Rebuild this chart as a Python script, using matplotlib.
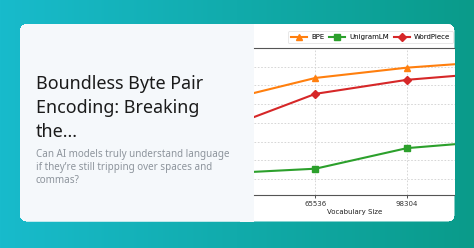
import numpy as np
import matplotlib
matplotlib.use("Agg")
import matplotlib.pyplot as plt
from matplotlib.patches import FancyBboxPatch, Rectangle

# ---- data ----
vocab_sizes = [32768, 65536, 98304, 131072]
bpe = [68.4, 70.8, 71.9, 72.6]
unigram = [60.6, 61.1, 63.3, 64.1]
wordpiece = [65.4, 69.1, 70.6, 71.4]
series_names = ["BPE", "UnigramLM", "WordPiece"]
x_ticks = [32768, 65536, 98304, 131072]
x_label = "Vocabulary Size"
title_lines = ["Boundless Byte Pair", "Encoding: Breaking", "the..."]
subtitle_lines = ["Can AI models truly understand language",
                  "if they\u2019re still tripping over spaces and",
                  "commas?"]

W, H = 474, 248
fig = plt.figure(figsize=(W / 100, H / 100), dpi=100)

# ---- background gradient ----
c_left = np.array([0x18, 0xbb, 0xcc]) / 255
c_right = np.array([0x0a, 0x9b, 0x8a]) / 255
t = np.linspace(0, 1, W)[None, :, None]
grad = c_left * (1 - t) + c_right * t
grad = np.repeat(grad, H, axis=0)

ax_bg = fig.add_axes([0, 0, 1, 1], zorder=-10)
ax_bg.imshow(grad, extent=(0, W, H, 0), interpolation="nearest", aspect="auto")
ax_bg.set_xlim(0, W)
ax_bg.set_ylim(H, 0)
ax_bg.axis("off")

# card
cx0, cy0, cx1, cy1, r = 20, 24, 454.5, 221.5, 6
ax_bg.add_patch(FancyBboxPatch((cx0, cy0), cx1 - cx0, cy1 - cy0,
                               boxstyle=f"round,pad=0,rounding_size={r}",
                               fc="white", ec="none", zorder=2))
# left light panel
ax_bg.add_patch(FancyBboxPatch((cx0, cy0), 254 - cx0, cy1 - cy0,
                               boxstyle=f"round,pad=0,rounding_size={r}",
                               fc="#f5f8fb", ec="none", zorder=3))
ax_bg.add_patch(Rectangle((240, cy0), 14, cy1 - cy0, fc="#f5f8fb", ec="none", zorder=3))

# texts
tfont = ["Noto Sans", "DejaVu Sans"]
for i, line in enumerate(title_lines):
    ax_bg.text(36, 89 + 24 * i, line, fontsize=12.9, color="#1b1b1b",
               family=tfont, va="baseline", ha="left", zorder=5)
for i, line in enumerate(subtitle_lines):
    ax_bg.text(36, 157 + 13 * i, line, fontsize=7.1, color="#8d949c",
               family=tfont, va="baseline", ha="left", zorder=5)

# ---- chart axes ----
px_l, px_r, px_t, px_b = 254, 454.5, 48, 195
ax = fig.add_axes([px_l / W, (H - px_b) / H, (px_r - px_l) / W, (px_b - px_t) / H], zorder=1)
ax.set_facecolor("white")
ax.plot(vocab_sizes, bpe, color="#ff7f0e", marker="^", ms=5, lw=1.5, label=series_names[0])
ax.plot(vocab_sizes, unigram, color="#2ca02c", marker="s", ms=4.5, lw=1.5, label=series_names[1])
ax.plot(vocab_sizes, wordpiece, color="#d62728", marker="D", ms=4.5, lw=1.5, label=series_names[2])

ax.set_xticks(x_ticks)
ax.set_xticklabels([str(v) for v in x_ticks])
ax.set_yticks(np.arange(60, 73, 2))
ax.set_xlim(43571, 115300)
ax.set_ylim(58.29, 74.0)
ax.tick_params(axis="y", left=False, labelleft=False)
ax.tick_params(axis="x", length=2, width=0.6, pad=2, labelsize=5, colors="#333333")
ax.set_xlabel(x_label, fontsize=5, labelpad=1.5, color="#222222")
ax.grid(True, linestyle=(0, (2, 2)), color="#d0d0d0", lw=0.6)
ax.set_axisbelow(True)
for s in ["left", "right"]:
    ax.spines[s].set_visible(False)
for s in ["top", "bottom"]:
    ax.spines[s].set_color("#555555")
    ax.spines[s].set_linewidth(0.8)

leg = ax.legend(loc="lower left", bbox_to_anchor=(288 / W, (H - 43) / H),
                bbox_transform=fig.transFigure, ncol=3, fontsize=5,
                handlelength=2.3, handletextpad=0.6, columnspacing=0.7,
                borderpad=0.4, frameon=True, borderaxespad=0)
leg.get_frame().set_edgecolor("#dddddd")
leg.get_frame().set_linewidth(0.6)

# ---- overlay mask outside the card ----
yy, xx = np.mgrid[0:H, 0:W] + 0.5
inside = (xx >= cx0) & (xx <= cx1) & (yy >= cy0) & (yy <= cy1)
for (ccx, ccy) in [(cx0 + r, cy0 + r), (cx1 - r, cy0 + r), (cx0 + r, cy1 - r), (cx1 - r, cy1 - r)]:
    corner = ((xx < cx0 + r) if ccx < W / 2 else (xx > cx1 - r)) & \
             ((yy < cy0 + r) if ccy < H / 2 else (yy > cy1 - r))
    inside &= ~(corner & ((xx - ccx) ** 2 + (yy - ccy) ** 2 > r ** 2))
rgba = np.concatenate([grad, (~inside)[:, :, None].astype(float)], axis=2)
ax_ov = fig.add_axes([0, 0, 1, 1], zorder=20)
ax_ov.imshow(rgba, extent=(0, W, H, 0), interpolation="nearest", aspect="auto")
ax_ov.set_xlim(0, W)
ax_ov.set_ylim(H, 0)
ax_ov.axis("off")
ax_ov.patch.set_alpha(0)

fig.savefig("out.png", dpi=100)
